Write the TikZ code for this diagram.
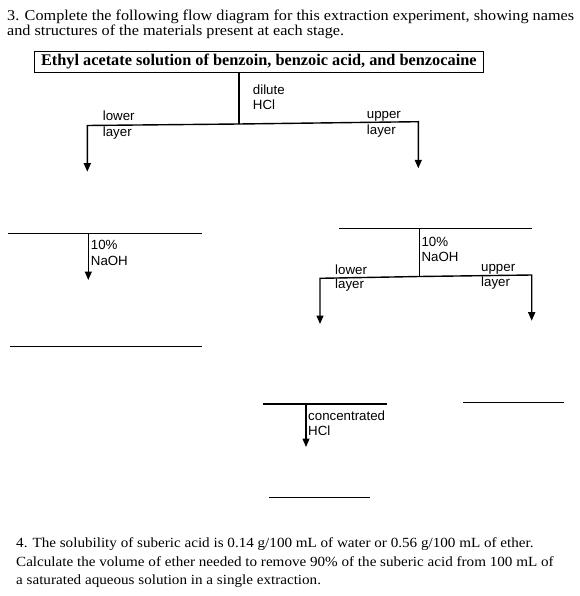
\documentclass[tikz,border=0pt]{standalone}
\usepackage{fontspec}
\setmainfont{Liberation Serif}
\newfontfamily\widefont[FakeStretch=1.08]{Liberation Serif}
\newfontfamily\labfont{Liberation Sans}
\usetikzlibrary{arrows.meta}
\begin{document}
\begin{tikzpicture}[x=1pt,y=-1pt,
  ln/.style={line width=1.4pt},
  arr/.style={line width=1.4pt,-{Triangle[length=8.5pt,width=7pt]}},
  lab/.style={font=\labfont\fontsize{13.3}{13.3}\selectfont,inner sep=0pt,anchor=base west},
  ttl/.style={font=\widefont\fontsize{15}{15}\selectfont,inner sep=0pt,anchor=base west},
  qst/.style={font=\widefont\fontsize{14}{14}\selectfont,inner sep=0pt,anchor=base west}]
\useasboundingbox (0,0) rectangle (579,596);
% question 3
\node[ttl] (t1) at (7,20.5) {3. Complete the following flow diagram for this extraction experiment, showing names};
\node[ttl] (t2) at (7,36) {and structures of the materials present at each stage.};
\node[draw,line width=1.2pt,minimum width=449pt,minimum height=21pt,inner sep=0pt,
  font=\bfseries\fontsize{16.3}{16.3}\selectfont] (src) at (258.8,61.7)
  {Ethyl acetate solution of benzoin, benzoic acid, and benzocaine};
% first split
\coordinate (j1) at (239,124);
\coordinate (b1L) at (87.3,125.5);
\coordinate (b1R) at (418.3,121.7);
\coordinate (t1L) at (87.3,171.7);
\coordinate (t1R) at (418.3,168.3);
\draw[ln] (src.south -| j1) -- (j1);
\draw[arr] (j1) -- (b1L) -- (t1L);
\draw[arr] (j1) -- (b1R) -- (t1R);
\node[lab] (dil1) at (252.7,94.3) {dilute};
\node[lab] (dil2) at (252.7,110) {HCl};
\node[lab] (lo1) at (102.7,121) {lower};
\node[lab] (lo2) at (102.7,136.7) {layer};
\node[lab] (up1) at (366.7,119) {upper};
\node[lab] (up2) at (366.7,134.3) {layer};
% left column
\coordinate (l2a) at (8.3,233.3);
\coordinate (l2b) at (201.7,233.3);
\coordinate (a2s) at (88.3,233.3);
\coordinate (a2t) at (88.3,280);
\draw[ln] (l2a) -- (l2b);
\draw[arr] (a2s) -- (a2t);
\node[lab] (n1a) at (90.7,249.3) {10\%};
\node[lab] (n1b) at (90.7,265.3) {NaOH};
\coordinate (l3a) at (10,346.7);
\coordinate (l3b) at (201.7,346.7);
\draw[ln] (l3a) -- (l3b);
% right column
\coordinate (r2a) at (339.3,228.5);
\coordinate (r2b) at (531.7,228.5);
\coordinate (j2) at (419.3,228.5);
\coordinate (j2b) at (419.3,276.5);
\coordinate (b2L) at (320,278.3);
\coordinate (b2R) at (531.7,275);
\coordinate (t2L) at (320,324);
\coordinate (t2R) at (531.7,320.7);
\draw[ln] (r2a) -- (r2b);
\draw[ln] (j2) -- (j2b);
\draw[arr] (j2b) -- (b2L) -- (t2L);
\draw[arr] (j2b) -- (b2R) -- (t2R);
\node[lab] (n2a) at (421.3,246.7) {10\%};
\node[lab] (n2b) at (421.3,261.5) {NaOH};
\node[lab] (lo3) at (335,274) {lower};
\node[lab] (lo4) at (335,288.3) {layer};
\node[lab] (up3) at (481,271.7) {upper};
\node[lab] (up4) at (481,286) {layer};
% bottom
\coordinate (c1a) at (262.7,404);
\coordinate (c1b) at (387,404);
\coordinate (c2s) at (306,404);
\coordinate (c2t) at (306,447);
\draw[ln] (c1a) -- (c1b);
\draw[arr] (c2s) -- (c2t);
\node[lab] (hc1) at (308,420) {concentrated};
\node[lab] (hc2) at (308,435.5) {HCl};
\coordinate (d1a) at (463,402.7);
\coordinate (d1b) at (563.7,402.7);
\draw[ln] (d1a) -- (d1b);
\coordinate (e1a) at (269,497.7);
\coordinate (e1b) at (370,497.7);
\draw[ln] (e1a) -- (e1b);
% question 4
\node[qst] (q1) at (16,547.5) {4. The solubility of suberic acid is 0.14 g/100 mL of water or 0.56 g/100 mL of ether.};
\node[qst] (q2) at (16,566) {Calculate the volume of ether needed to remove 90\% of the suberic acid from 100 mL of};
\node[qst] (q3) at (16,584.5) {a saturated aqueous solution in a single extraction.};
\end{tikzpicture}
\end{document}
